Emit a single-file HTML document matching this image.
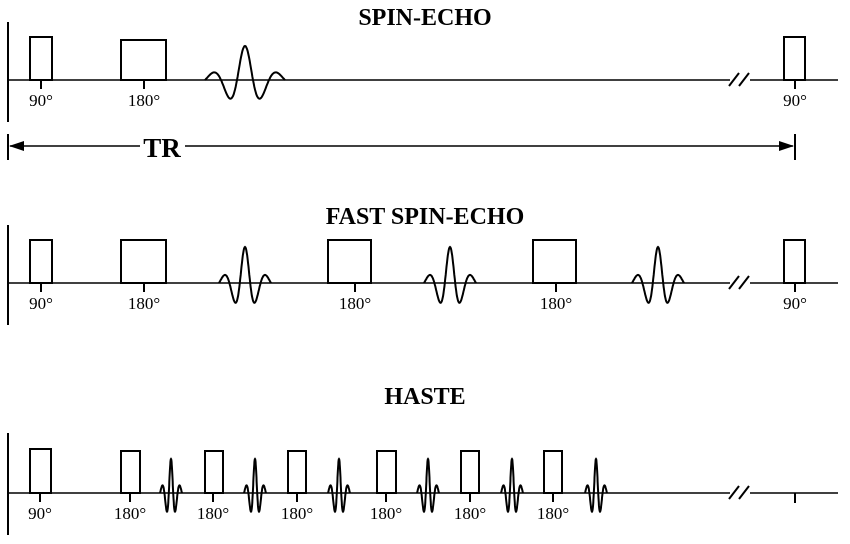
<!DOCTYPE html>
<html><head><meta charset="utf-8"><style>
html,body{margin:0;padding:0;background:#fff;}
svg{display:block}
text{font-family:"Liberation Serif",serif;fill:#000}
.t{font-weight:bold;font-size:24px;text-anchor:middle}
.l{font-size:17px;text-anchor:middle}
</style></head><body>
<svg id="s" width="850" height="544" viewBox="0 0 850 544" xmlns="http://www.w3.org/2000/svg" fill="none" stroke="#000" stroke-width="2">
<text class="t" x="425" y="25" stroke="none">SPIN-ECHO</text>
<text class="t" x="425" y="224" stroke="none">FAST SPIN-ECHO</text>
<text class="t" x="425" y="404" stroke="none">HASTE</text>
<text x="162" y="157" stroke="none" style="font-weight:bold;font-size:27px;text-anchor:middle">TR</text>
<line x1="8" y1="134" x2="8" y2="160"/>
<line x1="795" y1="134" x2="795" y2="160"/>
<line x1="10" y1="146" x2="140" y2="146" stroke-width="1.5"/>
<line x1="185" y1="146" x2="793" y2="146" stroke-width="1.5"/>
<path d="M9 146 L24 141 L24 151 Z" fill="#000" stroke="none"/>
<path d="M794 146 L779 141 L779 151 Z" fill="#000" stroke="none"/>
</svg>
<script>
var s=document.getElementById('s');
function el(tag,a,txt){var e=document.createElementNS('http://www.w3.org/2000/svg',tag);for(var k in a)e.setAttribute(k,a[k]);if(txt){e.textContent=txt;}s.appendChild(e);return e;}
function seq(by,top,bot,boxes,echoes,endBox,endTick){
 el('line',{x1:8,y1:top,x2:8,y2:bot});
 el('line',{x1:8,y1:by,x2:730,y2:by,'stroke-width':1.6});
 el('line',{x1:750,y1:by,x2:838,y2:by,'stroke-width':1.6});
 el('line',{x1:729,y1:by+6,x2:739,y2:by-7});
 el('line',{x1:739,y1:by+6,x2:749,y2:by-7});
 boxes.forEach(function(b){
  el('rect',{x:b[0],y:b[2],width:b[1]-b[0],height:by-b[2]});
  el('line',{x1:b[3],y1:by,x2:b[3],y2:by+9});
  el('text',{x:b[3],y:by+26,'class':'l',stroke:'none'},b[4]);
 });
 echoes.forEach(function(e){
  var cx=e[0],hw=e[1],A=e[2],d='';
  for(var i=0;i<=120;i++){var u=-2.5+5*i/120;var env=A/(1+0.9*u*u);var y=by-env*Math.cos(Math.PI*u);var x=cx+u*hw/2.5;d+=(i?'L':'M')+x.toFixed(1)+' '+y.toFixed(1);}
  el('path',{d:d});
 });
 if(endTick){el('line',{x1:795,y1:by,x2:795,y2:by+10});}
}
seq(80,22,122,[[30,52,37,41,'90°'],[121,166,40,144,'180°'],[784,805,37,795,'90°']],[[245,40,34]]);
seq(283,225,325,[[30,52,240,41,'90°'],[121,166,240,144,'180°'],[328,371,240,355,'180°'],[533,576,240,556,'180°'],[784,805,240,795,'90°']],[[245,26,36],[450,26,36],[658,26,36]]);
seq(493,433,535,[[30,51,449,40,'90°'],[121,140,451,130,'180°'],[205,223,451,213,'180°'],[288,306,451,297,'180°'],[377,396,451,386,'180°'],[461,479,451,470,'180°'],[544,562,451,553,'180°']],[[171,11,34],[255,11,34],[339,11,34],[428,11,34],[512,11,34],[596,11,34]],null,true);
</script>
</body></html>
